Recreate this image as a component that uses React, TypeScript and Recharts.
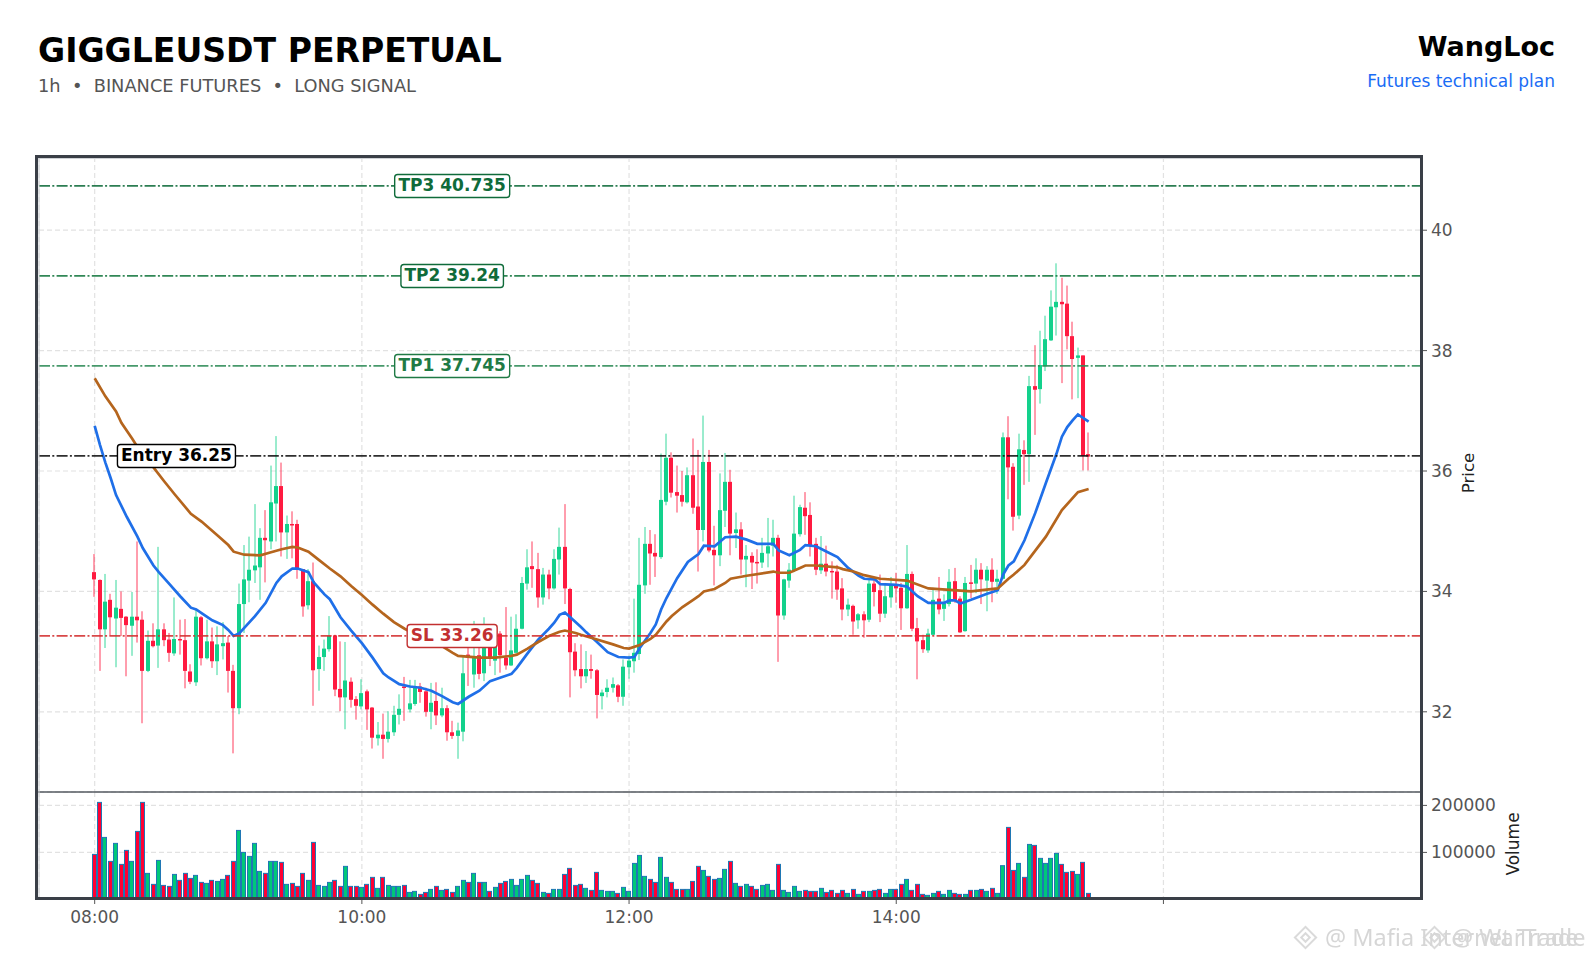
import React from 'react';
import { ComposedChart, Bar, Line, XAxis, YAxis, CartesianGrid, ReferenceLine, ReferenceDot } from 'recharts';

const opens = [34.32,34.19,33.37,33.86,33.55,33.71,33.58,33.43,33.58,33.53,
32.68,33.18,33.10,33.37,33.20,32.97,33.21,33.19,32.67,32.49,
33.57,32.89,33.17,32.84,33.09,33.15,32.68,32.06,33.79,34.18,
34.35,34.40,34.89,34.83,35.46,35.75,34.98,35.12,35.12,34.37,
33.77,34.17,32.71,32.91,33.04,33.27,32.38,32.24,32.50,32.21,
32.09,32.34,32.07,31.56,31.62,31.55,31.66,31.95,32.42,32.04,
32.13,32.42,32.34,32.00,32.18,31.94,32.06,31.66,31.60,31.67,
32.95,32.62,32.94,32.64,33.09,32.85,33.30,32.90,32.77,32.98,
33.38,34.13,34.42,34.37,33.90,34.28,34.05,34.53,34.74,34.04,
33.00,32.71,32.59,32.71,32.69,32.26,32.33,32.40,32.44,32.25,
32.74,32.84,32.96,34.10,34.79,34.64,34.57,35.49,36.22,35.65,
35.60,35.48,35.93,35.41,35.02,36.15,34.69,34.60,35.34,35.82,
34.97,35.03,34.53,34.59,34.49,34.48,34.63,34.76,34.89,33.60,
34.18,34.34,34.95,35.39,35.27,34.79,34.35,34.46,34.34,34.33,
34.05,33.70,33.76,33.52,33.62,33.53,34.13,34.02,33.63,33.90,
34.11,34.06,33.72,34.29,33.39,33.19,33.02,33.28,33.88,33.71,
33.79,34.17,33.88,33.34,34.15,34.13,34.36,34.18,34.36,34.16,
34.21,36.56,36.07,35.26,36.35,36.28,37.41,37.36,37.74,38.17,
38.72,38.81,38.78,38.24,37.88,37.92,36.28];

const closes = [34.20,33.37,33.83,33.57,33.73,33.56,33.44,33.58,33.52,32.68,
33.18,33.09,33.37,33.19,32.98,33.21,33.19,32.68,32.50,33.58,
32.89,33.17,32.84,33.12,33.14,32.68,32.06,33.79,34.20,34.36,
34.43,34.89,34.85,35.48,35.75,34.98,35.12,35.11,34.37,33.75,
34.17,32.69,32.91,33.05,33.26,32.37,32.24,32.52,32.20,32.10,
32.31,32.04,31.57,31.62,31.55,31.67,31.95,32.05,32.41,32.14,
32.42,32.33,32.00,32.15,31.94,32.06,31.66,31.60,31.69,32.64,
32.90,32.92,32.63,33.23,32.90,33.09,32.94,32.77,33.02,33.38,
34.14,34.40,34.37,33.90,34.28,34.05,34.54,34.74,34.05,32.99,
32.69,32.59,32.71,32.68,32.28,32.32,32.40,32.46,32.25,32.75,
32.85,32.98,34.11,34.79,34.63,34.58,35.52,36.22,35.64,35.59,
35.49,35.93,35.39,35.02,36.15,34.68,34.60,35.35,35.82,34.96,
35.03,34.53,34.59,34.48,34.48,34.64,34.75,34.89,33.60,34.20,
34.36,34.96,35.40,35.25,34.77,34.36,34.46,34.33,34.32,34.03,
33.70,33.78,33.50,33.62,33.52,34.13,33.99,33.63,33.92,34.11,
34.05,33.72,34.29,33.38,33.17,33.04,33.30,33.86,33.70,33.80,
34.16,33.84,33.32,34.14,34.13,34.36,34.20,34.36,34.16,34.21,
36.56,36.06,35.24,36.36,36.28,37.41,37.35,37.76,38.19,38.73,
38.81,38.77,38.24,37.86,37.92,36.25,36.24];

const highs = [34.62,34.20,34.29,33.96,34.19,34.00,33.59,33.99,34.83,33.67,
33.35,33.47,34.74,33.47,33.31,33.90,33.53,33.54,32.79,33.70,
33.59,33.53,33.40,33.42,33.49,33.26,32.78,34.13,34.77,34.91,
35.45,35.05,35.35,36.09,36.58,36.14,35.26,35.33,35.19,34.37,
34.37,34.48,33.10,33.20,33.59,33.28,33.17,33.16,32.57,32.26,
32.54,32.37,32.08,31.83,31.97,32.01,32.10,32.29,32.58,32.53,
32.53,32.48,32.40,32.48,32.49,32.40,32.11,31.85,31.82,32.93,
33.37,33.51,33.37,33.57,33.26,33.26,33.34,33.74,33.58,33.62,
34.24,34.70,34.83,34.64,34.39,34.36,34.70,35.06,35.45,34.06,
33.14,33.12,33.01,32.95,32.71,32.37,32.54,32.57,32.46,32.87,
32.93,33.88,34.89,35.07,35.02,34.95,36.29,36.62,36.31,36.09,
36.00,36.06,36.54,36.35,36.92,36.35,35.09,35.96,36.30,36.02,
35.31,35.15,34.77,34.65,34.70,34.89,35.22,35.19,34.94,34.21,
34.47,35.59,35.44,35.65,35.48,34.89,34.92,34.76,34.50,34.44,
34.22,33.88,33.78,33.64,33.67,34.20,34.22,34.28,34.14,34.24,
34.31,34.14,34.77,34.33,33.56,33.28,33.38,34.06,34.24,33.95,
34.37,34.39,33.92,34.24,34.44,34.55,34.47,34.42,34.55,34.36,
36.64,36.91,36.13,36.62,36.51,37.58,38.09,38.33,38.58,39.00,
39.45,39.21,39.08,38.48,38.05,37.92,36.64];

const lows = [33.91,32.68,33.06,33.27,32.74,33.26,32.59,32.93,33.15,31.81,
32.66,33.07,32.73,33.09,32.83,32.93,32.95,32.39,32.46,32.43,
32.77,32.87,32.73,32.61,32.87,32.32,31.31,31.96,33.31,33.82,
34.14,33.86,34.15,34.70,34.83,34.58,34.54,34.55,34.21,33.58,
33.70,32.10,32.35,32.68,33.00,32.26,32.01,31.71,32.07,31.87,
32.04,31.70,31.39,31.44,31.22,31.49,31.60,31.79,31.85,31.99,
32.10,32.15,31.92,31.71,31.78,31.91,31.52,31.55,31.22,31.51,
32.43,32.40,32.54,32.51,32.76,32.61,32.65,32.70,32.76,32.97,
33.37,34.03,34.06,33.73,33.78,33.87,34.03,34.28,33.79,32.24,
32.59,32.39,32.48,32.55,31.89,32.04,32.24,32.32,32.16,32.10,
32.55,32.65,32.86,33.96,34.11,34.24,34.54,35.43,35.56,35.31,
35.41,35.46,35.29,34.33,34.83,34.65,34.10,34.42,35.07,34.60,
34.72,34.28,34.07,34.04,34.13,34.39,34.40,34.58,32.83,33.53,
34.06,34.32,34.91,34.94,34.58,34.27,34.29,34.25,33.88,33.86,
33.52,33.59,33.28,33.38,33.23,33.49,33.75,33.49,33.56,33.73,
33.81,33.36,33.71,33.34,32.54,32.98,32.98,33.26,33.62,33.51,
33.75,33.81,33.31,33.33,33.89,33.97,33.79,33.67,33.82,33.96,
34.20,35.53,35.01,35.20,35.77,35.82,36.60,37.12,37.66,38.16,
38.25,37.46,38.02,37.19,37.21,36.01,36.01];

const volumes = [95800,206400,131900,80900,119200,74500,104300,80900,144700,206400,
55400,32000,83000,29800,27700,53200,40500,55400,44700,51100,
36200,34100,40500,38300,42600,51100,80900,146800,100000,91500,
119200,59600,55400,80900,80900,78800,32000,34100,27700,55400,
40500,121300,29800,27700,36200,40500,27700,70300,27700,27700,
25600,32000,46900,23500,46900,29800,27700,27700,29800,14900,
17100,10700,14900,21300,27700,19200,21300,14900,27700,40500,
36200,55400,36200,36200,17100,25600,34100,38300,42600,29800,
42600,51100,40500,34100,14900,12800,21300,21300,53200,66000,
29800,32000,23500,19200,57500,19200,17100,17100,12800,25600,
17100,76600,93600,49000,42600,36200,89400,46900,36200,21300,
21300,21300,38300,70300,61700,49000,42600,44700,63900,80900,
34100,27700,32000,27700,21300,29800,32000,19200,74500,19200,
14900,27700,17100,19200,17100,17100,23500,14900,19200,12800,
19200,12800,21300,10700,17100,17100,19200,21300,12800,21300,
21300,32000,42600,19200,32000,10700,8600,12800,17100,10700,
19200,12800,10700,10700,19200,19200,21300,17100,23500,12800,
71800,153200,61700,76600,46900,117000,114900,87300,76600,87300,
97900,74500,57500,59600,53200,78800,12800];

// Readings of the fast line, taken at these candles
const fastAt = [0,1,2,3,4,6,8,9,11,12,14,16,18,19,20,22,24,25,26,27,30,32,34,35,37,38,40,41,43,44,46,48,50,52,54,55,57,59,61,63,65,67,68,70,72,74,76,78,79,81,83,85,86,87,88,89,91,92,94,96,98,100,101,102,104,105,106,107,109,111,113,114,116,118,120,122,124,127,128,130,132,133,135,137,139,141,143,144,146,147,150,152,154,156,159,160,161,162,164,167,169,170,171,172,174,176,178,180,181,182,183,184,186];
const fastValues = [36.75,36.43,36.14,35.88,35.60,35.24,34.91,34.72,34.43,34.32,34.12,33.92,33.73,33.70,33.64,33.52,33.44,33.36,33.26,33.30,33.59,33.81,34.14,34.25,34.38,34.38,34.32,34.15,33.95,33.87,33.57,33.35,33.14,32.90,32.64,32.57,32.46,32.42,32.40,32.35,32.26,32.16,32.13,32.25,32.35,32.51,32.57,32.63,32.73,32.97,33.20,33.38,33.48,33.61,33.65,33.57,33.41,33.32,33.16,32.99,32.91,32.90,32.91,33.06,33.31,33.45,33.70,33.89,34.22,34.49,34.62,34.76,34.75,34.90,34.91,34.86,34.79,34.79,34.68,34.60,34.69,34.77,34.75,34.66,34.57,34.39,34.26,34.21,34.20,34.12,34.11,34.08,33.92,33.81,33.81,33.85,33.85,33.80,33.86,33.96,34.02,34.28,34.43,34.50,34.85,35.30,35.80,36.29,36.57,36.73,36.84,36.94,36.82];

// Readings of the slow line, taken at these candles
const slowAt = [0,2,4,5,7,9,11,13,15,18,20,23,25,26,28,31,33,35,37,38,40,42,44,46,48,50,52,54,56,58,60,62,64,65,67,68,72,75,78,79,81,83,85,87,88,90,91,94,97,99,100,102,104,105,107,108,110,112,113,114,116,118,119,122,127,128,130,132,133,135,139,140,142,144,147,152,156,164,169,171,172,174,178,181,184,186];
const slowValues = [37.54,37.24,36.99,36.80,36.54,36.26,36.06,35.83,35.61,35.29,35.16,34.93,34.77,34.66,34.61,34.60,34.65,34.70,34.74,34.73,34.66,34.52,34.38,34.25,34.09,33.94,33.78,33.63,33.49,33.38,33.29,33.23,33.16,33.09,32.98,32.93,32.90,32.90,32.93,32.95,33.05,33.16,33.26,33.33,33.35,33.31,33.28,33.20,33.12,33.06,33.05,33.11,33.21,33.28,33.50,33.59,33.74,33.86,33.92,34.00,34.04,34.14,34.21,34.26,34.33,34.31,34.31,34.39,34.43,34.43,34.40,34.37,34.33,34.27,34.21,34.18,34.05,34.00,34.05,34.21,34.28,34.44,34.91,35.35,35.65,35.70];

const timeTickAt = [0, 50, 100, 150, 200];
const timeTickLabels = ['08:00', '10:00', '12:00', '14:00', ''];
const priceTicks = [32, 34, 36, 38, 40];
const volumeTicks = [100000, 200000];

const levelNames = ['TP3', 'TP2', 'TP1', 'Entry', 'SL'];
const levelPrices = [40.735, 39.24, 37.745, 36.25, 33.26];
const levelTexts = ['TP3 40.735', 'TP2 39.24', 'TP1 37.745', 'Entry 36.25', 'SL 33.26'];
const levelLabelAt = [66.9, 66.9, 66.9, 15.3, 66.9];

const levelLineColors = ['#0f6b3a', '#15763f', '#2e8b57', '#111111', '#d32f2f'];
const levelTextColors = ['#0f6b3a', '#0f6b3a', '#1f7a45', '#000000', '#c23030'];
const labelBoxWidths = [115, 102.5, 115, 118, 90];

const UP = '#13d18c';
const DOWN = '#ff1a40';
const VOL_UP = '#00c878';
const VOL_DOWN = '#ff0033';
const FONT = '"DejaVu Sans", sans-serif';

const slowMap = new Map(slowAt.map((a, k) => [a, slowValues[k]]));
const fastMap = new Map(fastAt.map((a, k) => [a, fastValues[k]]));
const rows = opens.map((open, i) => ({
  i,
  open,
  close: closes[i],
  high: highs[i],
  low: lows[i],
  volume: volumes[i],
  range: [lows[i], highs[i]],
  fast: fastMap.has(i) ? fastMap.get(i) : null,
  slow: slowMap.has(i) ? slowMap.get(i) : null,
}));

const X_DOMAIN = [-10.42, 248.2];
const MARGIN_TOP = { top: 157, right: 89, bottom: 170, left: 39 };
const MARGIN_BOT = { top: 792, right: 89, bottom: 24, left: 39 };

function Candle(props: any) {
  const { x, y, width, height, payload } = props;
  if (!payload) return null;
  const span = payload.high - payload.low || 1;
  const pxPer = height / span;
  const up = payload.close >= payload.open;
  const top = Math.max(payload.open, payload.close);
  const bot = Math.min(payload.open, payload.close);
  const bodyY = y + (payload.high - top) * pxPer;
  const bodyH = Math.max((top - bot) * pxPer, 1.5);
  const left = Math.round(x - 0.7);
  const color = up ? UP : DOWN;
  return (
    <g>
      <line x1={left + 2} x2={left + 2} y1={y} y2={y + height} stroke={color} strokeWidth={1} strokeOpacity={0.85} />
      <rect x={left} y={bodyY} width={4} height={bodyH} fill={color} />
    </g>
  );
}

function VolumeBar(props: any) {
  const { x, y, width, height, payload } = props;
  if (!payload || height <= 0) return null;
  const up = payload.close >= payload.open;
  return <rect x={Math.round(x - 1.2) + 0.5} y={y} width={4} height={height} fill={up ? VOL_UP : VOL_DOWN} stroke="#1f77b4" strokeWidth={1} />;
}

function LevelLabel(props: any) {
  const { cx, cy, k } = props;
  const text = levelTexts[k];
  const w = labelBoxWidths[k];
  return (
    <g>
      <rect x={cx - w / 2} y={cy - 11.5} width={w} height={23} rx={3} fill="#fff" stroke={levelTextColors[k]} strokeWidth={1.4} />
      <text x={cx} y={cy + 5.5} textAnchor="middle" fontFamily={FONT} fontWeight="bold" fontSize={17} fill={levelTextColors[k]}>{text}</text>
    </g>
  );
}

const axisTick = { fontFamily: FONT, fontSize: 17, fill: '#555' };

export default function App() {
  return (
    <div style={{ position: 'absolute', left: 0, top: 0, width: 1590, height: 962, background: '#fff', overflow: 'hidden' }}>
      <div style={{ position: 'absolute', left: 0, top: 0 }}>
        <ComposedChart width={1590} height={962} data={rows} margin={MARGIN_TOP}>
          <CartesianGrid stroke="#e2e2e2" strokeDasharray="5 3" strokeWidth={1.2} />
          <XAxis dataKey="i" type="number" domain={X_DOMAIN} ticks={timeTickAt} hide allowDataOverflow />
          <YAxis orientation="right" width={80} domain={[30.668, 41.216]} ticks={priceTicks} allowDataOverflow
            tick={axisTick} tickSize={6} tickMargin={4} stroke="#555" axisLine={false} />
          <Bar dataKey="range" barSize={4} shape={<Candle />} isAnimationActive={false} />
          <Line dataKey="fast" stroke="#1f6fe8" strokeWidth={2.7} dot={false} connectNulls isAnimationActive={false} />
          <Line dataKey="slow" stroke="#b5651d" strokeWidth={2.7} dot={false} connectNulls isAnimationActive={false} />
          {levelNames.map((n, k) => (
            <ReferenceLine key={n} y={levelPrices[k]} stroke={levelLineColors[k]} strokeOpacity={0.88} strokeWidth={1.8}
              strokeDasharray="11 2.3 2 2.3" strokeDashoffset={1.8} />
          ))}
          {levelNames.map((n, k) => (
            <ReferenceDot key={n + 'L'} x={levelLabelAt[k]} y={levelPrices[k]} r={1} ifOverflow="visible" shape={(p: any) => <LevelLabel {...p} k={k} />} />
          ))}
        </ComposedChart>
      </div>
      <div style={{ position: 'absolute', left: 0, top: 0 }}>
        <ComposedChart width={1590} height={962} data={rows} margin={MARGIN_BOT}>
          <CartesianGrid stroke="#e2e2e2" strokeDasharray="5 3" strokeWidth={1.2} />
          <XAxis dataKey="i" type="number" domain={X_DOMAIN} ticks={timeTickAt} allowDataOverflow height={40}
            tickFormatter={(v: number) => timeTickLabels[timeTickAt.indexOf(v)] ?? ''}
            tick={axisTick} tickSize={6} tickMargin={7} stroke="#555" axisLine={false} interval={0} />
          <YAxis orientation="right" width={80} domain={[3000, 228500]} ticks={volumeTicks} allowDataOverflow
            tick={axisTick} tickSize={6} tickMargin={4} stroke="#555" axisLine={false} />
          <Bar dataKey="volume" barSize={4} shape={<VolumeBar />} isAnimationActive={false} />
        </ComposedChart>
      </div>

      <svg width={1590} height={962} style={{ position: 'absolute', left: 0, top: 0, pointerEvents: 'none' }}>
        <rect x={36.5} y={156.5} width={1385} height={742} fill="none" stroke="#3a3f47" strokeWidth={3} />
        <line x1={38} x2={1420} y1={792} y2={792} stroke="#555a60" strokeWidth={1.5} />
        <line x1={39} x2={39} y1={158} y2={897} stroke="#cfd2d6" strokeWidth={1} />
        <line x1={38} x2={1420} y1={158.5} y2={158.5} stroke="#cfd2d6" strokeWidth={1} />
        <text x={38} y={62} fontFamily={FONT} fontWeight="bold" fontSize={33.1} fill="#000">GIGGLEUSDT PERPETUAL</text>
        <text x={38} y={92} fontFamily={FONT} fontSize={17.8} fill="#555" style={{ whiteSpace: 'pre' }}>1h  •  BINANCE FUTURES  •  LONG SIGNAL</text>
        <text x={1555} y={56} textAnchor="end" fontFamily={FONT} fontWeight="bold" fontSize={27} fill="#000">WangLoc</text>
        <text x={1555} y={87} textAnchor="end" fontFamily={FONT} fontSize={17} fill="#1a6cf5">Futures technical plan</text>
        <text transform="translate(1474,473) rotate(-90)" textAnchor="middle" fontFamily={FONT} fontSize={16.7} fill="#222">Price</text>
        <text transform="translate(1519,844) rotate(-90)" textAnchor="middle" fontFamily={FONT} fontSize={17} fill="#222">Volume</text>
        <g style={{ filter: 'blur(0.5px)' }} opacity={0.55}>
          <g fill="none" stroke="#bdbdbd" strokeWidth={2}>
            <rect x={1298} y={930} width={15} height={15} transform="rotate(45 1305.5 937.5)" />
            <rect x={1427} y={930} width={15} height={15} transform="rotate(45 1434.5 937.5)" />
            <rect x={1302.5} y={934.5} width={6} height={6} transform="rotate(45 1305.5 937.5)" />
            <rect x={1431.5} y={934.5} width={6} height={6} transform="rotate(45 1434.5 937.5)" />
          </g>
          <text x={1325} y={946} fontFamily='"Noto Sans", sans-serif' fontSize={23.5} fill="#b5b5b5">@ Mafia Internet Trade</text>
          <text x={1452} y={946} fontFamily='"Noto Sans", sans-serif' fontSize={23.5} fill="#b5b5b5">@ WarTrade</text>
        </g>
      </svg>
    </div>
  );
}
